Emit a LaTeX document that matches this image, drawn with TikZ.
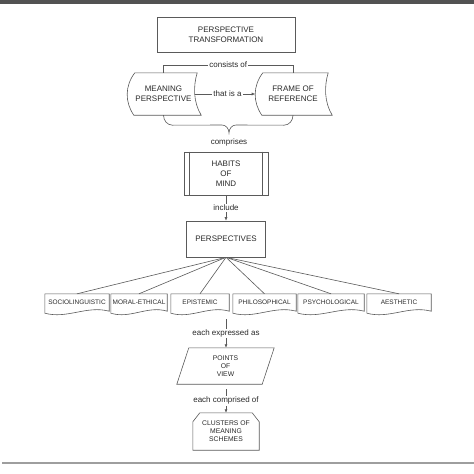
\documentclass[tikz,border=0pt]{standalone}
\usepackage{fontspec}
\setmainfont{Liberation Sans}
\usetikzlibrary{arrows.meta,calc}
\definecolor{ln}{HTML}{5A5A5A}
\definecolor{tx}{HTML}{2A2A2A}
\begin{document}
\begin{tikzpicture}[x=1pt,y=1pt,
  box/.style={draw=ln, line width=0.6pt, align=center, text=tx, inner sep=0pt, font=\fontsize{8}{9.8}\selectfont},
  free/.style={align=center, text=tx, inner sep=0pt, font=\fontsize{8}{9.8}\selectfont},
  small/.style={align=center, text=tx, inner sep=0pt, font=\fontsize{6.8}{8}\selectfont},
  doc/.style={align=center, text=tx, inner sep=0pt, minimum height=16, font=\fontsize{6.5}{7.8}\selectfont},
  lbl/.style={fill=white, text=tx, inner sep=1pt, font=\fontsize{8}{9.6}\selectfont},
  line/.style={draw=ln, line width=0.6pt},
  arr/.style={line, -{Latex[length=3.5pt,width=3pt]}},
]
\useasboundingbox (0,0) rectangle (474,-474);
\fill[white] (0,0) rectangle (474,-474);
% frame lines
\fill[black!68] (0,0) rectangle (474,-3.5);
\draw[black!38, line width=2pt] (2,-463) -- (474,-463);

% top box
\node[box, minimum width=138, minimum height=35] (pt) at (226,-34.5) {PERSPECTIVE\\TRANSFORMATION};

% stored-data shapes
\node[free, minimum width=67, minimum height=42] (mp) at (163.5,-94) {MEANING\\PERSPECTIVE};
\node[free, minimum width=70, minimum height=42] (fr) at (293,-94) {FRAME OF\\REFERENCE};
\foreach \n in {mp,fr}{
  \draw[line] ($(\n.north west)+(5,0)$) -- (\n.north east)
    .. controls ($(\n.east)+(-4,8)$) and ($(\n.east)+(-4,-8)$) .. ($(\n.south east)+(4,0)$)
    -- ($(\n.south west)+(4,0)$)
    .. controls ($(\n.west)+(-5,-8)$) and ($(\n.west)+(-5,8)$) .. cycle;
}
\draw[arr, shorten <=-2.5pt, shorten >=2.6pt] (mp.east) -- node[lbl]{that is a} (fr.west);
\draw[line] (mp.north) |- node[lbl,pos=0.75]{consists of} ($(fr.north)+(0,8)$) -- (fr.north);

% brace
\coordinate (tip) at (229,-133);
\draw[line] (mp.south) to[out=-90,in=180] ($(mp.south)+(9,-10)$) -- ($(tip)+(-7,8)$)
  to[out=0,in=90] (tip) to[out=90,in=180] ($(tip)+(7,8)$) -- ($(fr.south)+(-9,-10)$)
  to[out=0,in=-90] (fr.south);
\node[free] (cp) at (229,-142) {comprises};

% habits of mind
\node[box, minimum width=84, minimum height=43] (hm) at (226,-173.5) {HABITS\\OF\\MIND};
\draw[line] ($(hm.north west)+(6,0)$) -- ($(hm.south west)+(6,0)$);
\draw[line] ($(hm.north east)+(-6,0)$) -- ($(hm.south east)+(-6,0)$);

% perspectives
\node[box, minimum width=79, minimum height=36] (ps) at (226,-239) {PERSPECTIVES};
\draw[arr] (hm.south) -- node[lbl]{include} (ps.north);

% document boxes
\node[doc, minimum width=64] (soc) at (77,-302) {SOCIOLINGUISTIC};
\node[doc, minimum width=56] (mor) at (139,-302) {MORAL-ETHICAL};
\node[doc, minimum width=58] (epi) at (200,-302) {EPISTEMIC};
\node[doc, minimum width=63] (phi) at (264.5,-302) {PHILOSOPHICAL};
\node[doc, minimum width=66] (psy) at (331,-302) {PSYCHOLOGICAL};
\node[doc, minimum width=64] (aes) at (399,-302) {AESTHETIC};
\foreach \n in {soc,mor,epi,phi,psy,aes}{
  \draw[line] (ps.south) -- (\n.north);
  \draw[line] (\n.north west) -- (\n.north east) -- ($(\n.south east)+(0,-1)$)
    .. controls ($(\n.south west)!0.65!(\n.south east)+(0,5)$) and ($(\n.south west)!0.35!(\n.south east)+(0,-9)$) .. ($(\n.south west)+(0,-3)$) -- cycle;
}

% points of view
\coordinate (ex) at (226,-319);
\node[small, minimum width=73, minimum height=36] (pov) at (225.5,-366) {POINTS\\OF\\VIEW};
\draw[line] (pov.north west) -- ($(pov.north east)+(12,0)$) -- (pov.south east) -- ($(pov.south west)+(-12,0)$) -- cycle;
\draw[arr] (ex) -- node[lbl]{each expressed as} (ex |- pov.north);

% clusters
\coordinate (cm) at (226,-389);
\node[small, minimum width=66, minimum height=37] (cl) at (226,-431.5) {CLUSTERS OF\\MEANING\\SCHEMES};
\draw[line] ($(cl.north west)+(7,0)$) -- ($(cl.north east)+(-7,0)$) -- ($(cl.north east)+(0,-9)$)
  -- (cl.south east) -- (cl.south west) -- ($(cl.north west)+(0,-9)$) -- cycle;
\draw[arr] (cm) -- node[lbl]{each comprised of} (cm |- cl.north);
\end{tikzpicture}
\end{document}
